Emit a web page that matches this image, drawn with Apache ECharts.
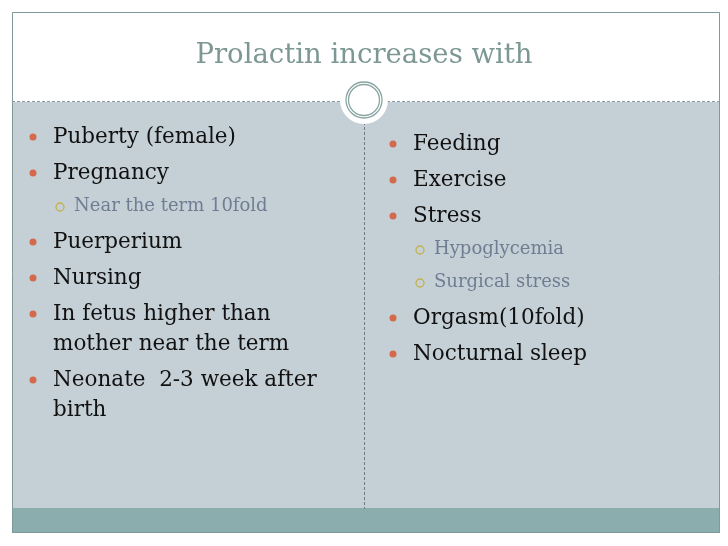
<!DOCTYPE html>
<html lang="en">
<head>
  <meta charset="UTF-8">
  <title>Prolactin increases with</title>
  <script src="https://cdn.jsdelivr.net/npm/echarts@6/dist/echarts.min.js"></script>
  <style>
    html, body { margin: 0; padding: 0; background: #fff; }
    #main { width: 728px; height: 546px; }
  </style>
</head>
<body>
  <div id="main"></div>
  <script>
    var titleText = 'Prolactin increases with'
    // [level, text] ; level 0 = main bullet, 1 = sub bullet, 2 = wrapped line
    var leftItems = [
      [0, 'Puberty (female)'],
      [0, 'Pregnancy'],
      [1, 'Near the term 10fold'],
      [0, 'Puerperium'],
      [0, 'Nursing'],
      [0, 'In fetus higher than'],
      [2, 'mother near the term'],
      [0, 'Neonate  2-3 week after'],
      [2, 'birth']
    ]
    var rightItems = [
      [0, 'Feeding'],
      [0, 'Exercise'],
      [0, 'Stress'],
      [1, 'Hypoglycemia'],
      [1, 'Surgical stress'],
      [0, 'Orgasm(10fold)'],
      [0, 'Nocturnal sleep']
    ]

    var font = '"DejaVu Serif", Georgia, serif'
    var els = [
      { type: 'rect', shape: { x: 12, y: 102, width: 708, height: 407 }, style: { fill: '#c5d0d6' } },
      { type: 'rect', shape: { x: 12, y: 508, width: 708, height: 25 }, style: { fill: '#8badad' } },
      { type: 'rect', shape: { x: 12.5, y: 12.5, width: 707, height: 520 }, style: { fill: 'none', stroke: '#7f9a98', lineWidth: 1 } },
      { type: 'line', shape: { x1: 12, y1: 101.5, x2: 720, y2: 101.5 }, style: { stroke: '#8a9aa2', lineDash: [3, 2], lineWidth: 1 } },
      { type: 'line', shape: { x1: 364.5, y1: 122, x2: 364.5, y2: 509 }, style: { stroke: '#6d7a86', lineDash: [3, 2], lineWidth: 1 } },
      { type: 'circle', shape: { cx: 364, cy: 100, r: 24 }, style: { fill: '#fff' } },
      { type: 'circle', shape: { cx: 364, cy: 100, r: 18 }, style: { fill: '#fff', stroke: '#8aa4a2', lineWidth: 1.3 } },
      { type: 'circle', shape: { cx: 364, cy: 100, r: 15.5 }, style: { fill: 'none', stroke: '#8aa4a2', lineWidth: 1.3 } },
      { type: 'text', x: 364, y: 56, style: { text: titleText, font: '27.5px ' + font, fill: '#7d9894', align: 'center', verticalAlign: 'middle' } }
    ]

    function addColumn(items, x0, yStart) {
      var y = yStart
      items.forEach(function (it, i) {
        if (i > 0) y += it[0] === 0 ? 36 : it[0] === 1 ? 33 : 30
        if (it[0] === 1) {
          els.push({ type: 'circle', shape: { cx: x0 + 27, cy: y + 1, r: 4 }, style: { fill: 'none', stroke: '#c4b04a', lineWidth: 1.3 } })
          els.push({ type: 'text', x: x0 + 41, y: y, style: { text: it[1], font: '18px ' + font, fill: '#6f7d92', verticalAlign: 'middle' } })
        } else {
          if (it[0] === 0) els.push({ type: 'circle', shape: { cx: x0, cy: y, r: 3.5 }, style: { fill: '#d4694c' } })
          els.push({ type: 'text', x: x0 + 20, y: y, style: { text: it[1], font: '21.5px ' + font, fill: '#111', verticalAlign: 'middle' } })
        }
      })
    }
    addColumn(leftItems, 33, 137)
    addColumn(rightItems, 393, 144)

    var myChart = echarts.init(document.getElementById('main'))
    myChart.setOption({ graphic: { elements: els } })
  </script>
</body>
</html>
